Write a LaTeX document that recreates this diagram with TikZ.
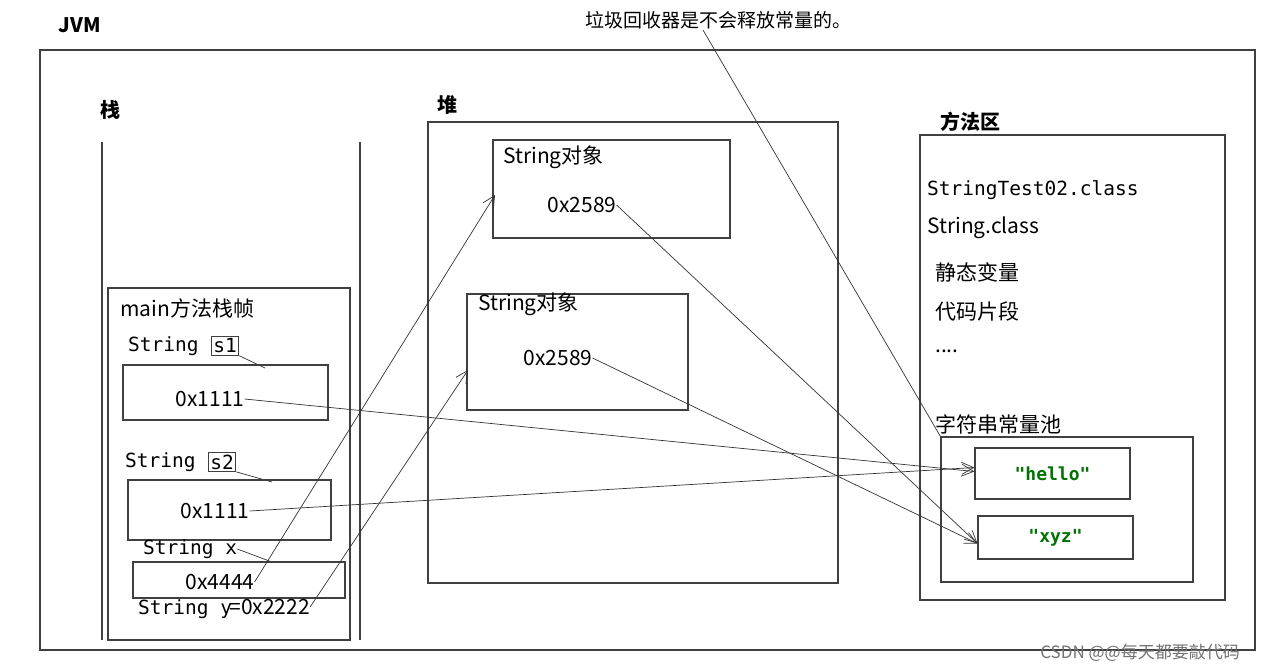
\documentclass[tikz,border=0pt]{standalone}
\usepackage{fontspec}
\setmainfont{Noto Sans CJK SC}
\newfontfamily\monof{DejaVu Sans Mono}
\usetikzlibrary{arrows.meta}
\begin{document}
\begin{tikzpicture}[x=1pt,y=-1pt,
 box/.style={draw=black!75,line width=1.2pt,inner sep=0pt},
 lbl/.style={inner sep=0pt,font=\fontsize{21}{22}\selectfont},
 blbl/.style={inner sep=0pt,font=\fontsize{20}{22}\selectfont\bfseries},
 mono/.style={inner sep=0pt,font=\fontsize{19.5}{21}\selectfont\monof},
 pool/.style={inner sep=0pt,font=\fontsize{18}{20}\selectfont\monof\bfseries,text=green!45!black},
 ln/.style={draw=black!80,line width=0.7pt},
 arr/.style={ln,-{Straight Barb[length=12pt,width=12pt]}}]
\useasboundingbox (0,0) rectangle (1268,670);
\fill[white] (0,0) rectangle (1268,670);
% JVM
\node[blbl] (jvm) at (80,25) {JVM};
\node[box,minimum width=1215pt,minimum height=600pt] (outer) at (647.5,350) {};
% stack
\node[blbl] (zhan) at (110,110) {栈};
\coordinate (sl1) at (102,142); \coordinate (sl2) at (102,640);
\coordinate (sr1) at (360,142); \coordinate (sr2) at (360,640);
\draw[box] (sl1) -- (sl2); \draw[box] (sr1) -- (sr2);
\node[box,minimum width=242pt,minimum height=352pt] (frame) at (229,464) {};
\node[lbl,anchor=west] (mainlbl) at (120,308) {main方法栈帧};
\node[mono,anchor=west] (s1t) at (128,346) {String};
\node[mono,draw=black!75,line width=1pt,inner sep=2pt,anchor=west] (s1) at ([xshift=12pt]s1t.east) {s1};
\coordinate (s1e) at (265,368);
\draw[ln] (s1.south east) -- (s1e);
\node[box,minimum width=205pt,minimum height=55pt] (b1) at (225.5,392.5) {};
\node[lbl] (v1) at (210,399) {0x1111};
\node[mono,anchor=west] (s2t) at (125,462) {String};
\node[mono,draw=black!75,line width=1pt,inner sep=2pt,anchor=west] (s2) at ([xshift=12pt]s2t.east) {s2};
\coordinate (s2e) at (272,482);
\draw[ln] (s2.south east) -- (s2e);
\node[box,minimum width=203pt,minimum height=60pt] (b2) at (229.5,510) {};
\node[lbl] (v2) at (215,511) {0x1111};
\node[mono,anchor=west] (xt) at (143,549) {String x};
\coordinate (xe) at (272,562);
\draw[ln] (xt.east) -- (xe);
\node[box,minimum width=212pt,minimum height=36pt] (b3) at (239,580) {};
\node[lbl] (v3) at (220,582) {0x4444};
\node[mono,anchor=west,inner sep=0pt] (yt) at (138,609) {String y};
\node[lbl,anchor=west] (yv) at ([xshift=-3pt,yshift=2pt]yt.east) {=0x2222};
% heap
\node[blbl] (dui) at (447,105) {堆};
\node[box,minimum width=410pt,minimum height=461pt] (heap) at (633,352.5) {};
\node[box,minimum width=237pt,minimum height=98pt] (o1) at (611.5,189) {};
\node[lbl,anchor=west] (o1t) at (503,157) {String对象};
\node[lbl] (o1v) at (582,205) {0x2589};
\node[box,minimum width=221pt,minimum height=116pt] (o2) at (577.5,352) {};
\node[lbl,anchor=west] (o2t) at (478,304) {String对象};
\node[lbl] (o2v) at (558,358) {0x2589};
% method area
\node[blbl] (ff) at (970,122) {方法区};
\node[box,minimum width=305pt,minimum height=465pt] (ma) at (1072.5,367.5) {};
\node[mono,anchor=west] (c1) at (927,190) {StringTest02.class};
\node[lbl,anchor=west] (c2) at (927,228) {String.class};
\node[lbl,anchor=west] (c3) at (935,272) {静态变量};
\node[lbl,anchor=west] (c4) at (935,311) {代码片段};
\node[lbl,anchor=west] (c5) at (935,351) {....};
\node[lbl,anchor=west] (pl) at (935,424) {字符串常量池};
\node[box,minimum width=252pt,minimum height=145pt] (pbox) at (1067,509.5) {};
\node[box,minimum width=155pt,minimum height=51pt] (hello) at (1052.5,473.5) {};
\node[pool] at (hello) {"hello"};
\node[box,minimum width=155pt,minimum height=43pt] (xyz) at (1055.5,537.5) {};
\node[pool] at (xyz) {"xyz"};
% note
\node[lbl,font=\fontsize{19}{20}\selectfont] (note) at (718,20) {垃圾回收器是不会释放常量的。};
\draw[ln] (703,30) -- (pbox.north west);
% arrows
\draw[arr] (v1.east) -- ([yshift=2pt]hello.west);
\draw[arr] (v2.east) -- ([yshift=6pt]hello.west);
\draw[arr] (o1v.east) -- ([yshift=-6pt]xyz.west);
\draw[arr] (o2v.east) -- ([yshift=-6pt]xyz.west);
\draw[arr] (v3.east) -- (495,195);
\draw[arr] (yv.east) -- (468,370);
% watermark
\node[inner sep=0pt,text=black!55,font=\fontsize{17}{18}\selectfont] (wm) at (1140,653) {CSDN @@每天都要敲代码};
\end{tikzpicture}
\end{document}
